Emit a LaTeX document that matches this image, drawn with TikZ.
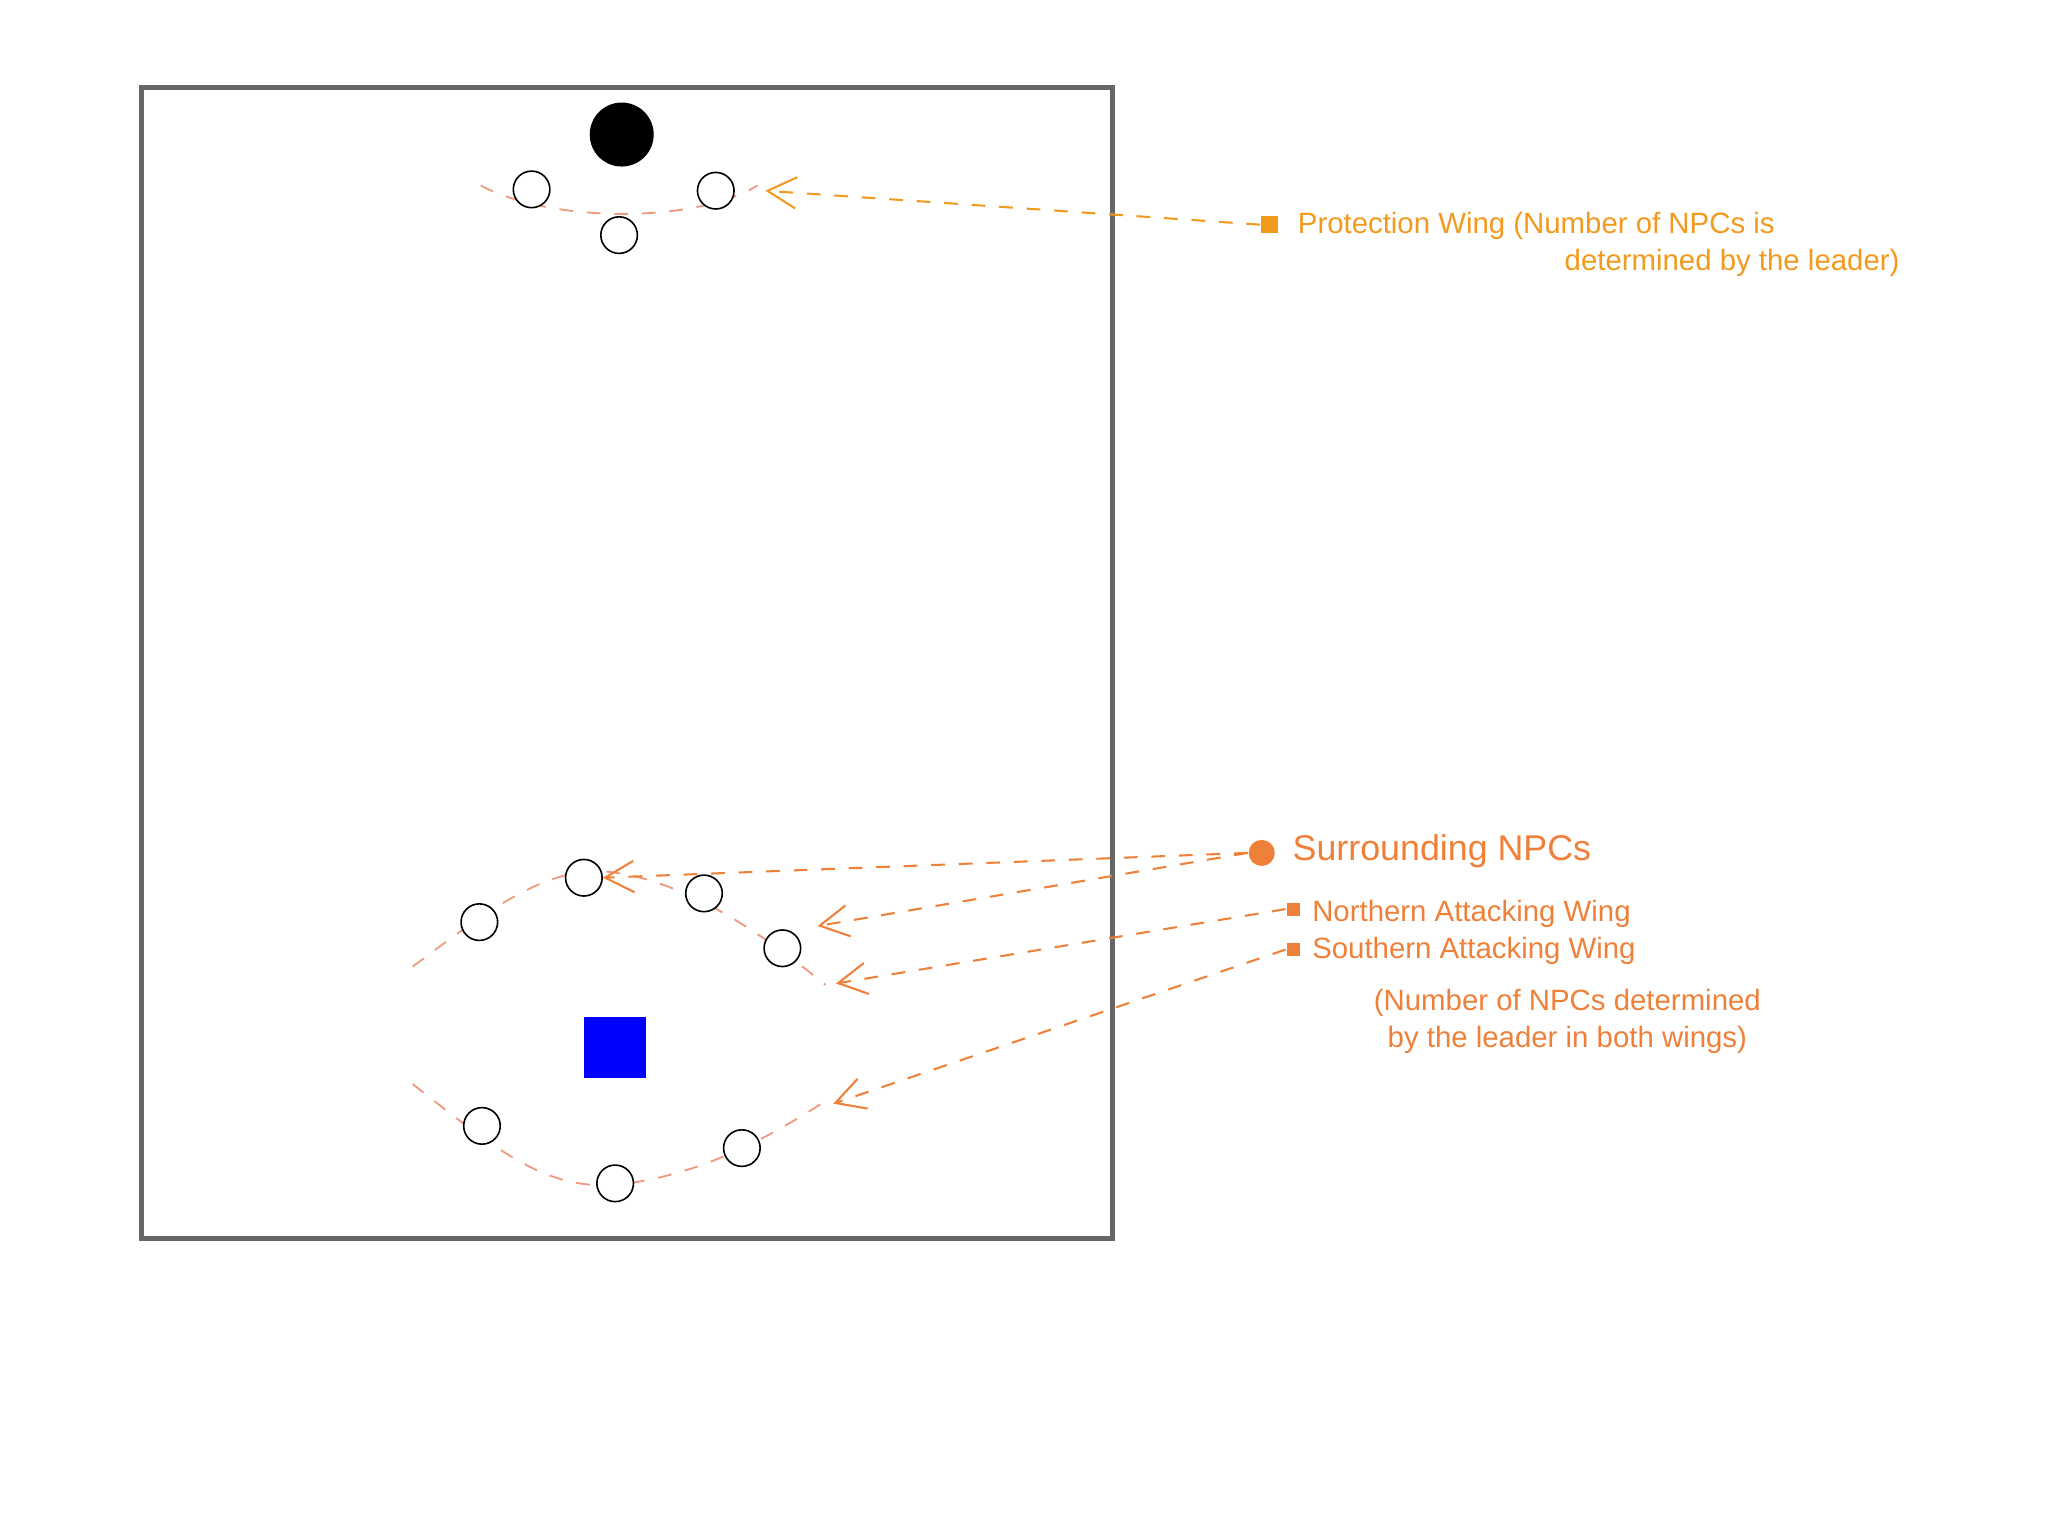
\documentclass[tikz,border=0pt]{standalone}
\usepackage{fontspec}
\setmainfont{Liberation Sans}
\usetikzlibrary{arrows.meta}
\definecolor{po}{HTML}{F29A1E}
\definecolor{so}{HTML}{EF8039}
\definecolor{cv}{HTML}{EE9A80}
\begin{document}
\begin{tikzpicture}[x=0.1mm,y=-0.1mm,
  npc/.style={circle,draw=black,line width=0.35pt,minimum size=2.8mm,inner sep=0pt},
  wing/.style={draw=cv,dashed,line width=0.4pt},
  ptr/.style={dashed,line width=0.45pt,-{Straight Barb[length=2.2mm,width=2.4mm]}},
  lbl/.style={anchor=west,inner sep=0pt,font=\fontsize{6.4pt}{7.6pt}\selectfont}]
\useasboundingbox (0,0) rectangle (1568,1176);
\draw[gray!80!black,line width=1.1pt] (108,67) rectangle (852,948);
% top
\node[circle,fill=black,minimum size=4.9mm,inner sep=0pt] (leader) at (476,103) {};
\draw[wing] (368,142) .. controls (420,170) and (530,172) .. (580,142);
\node[npc,fill=white] (p1) at (407,145) {};
\node[npc,fill=white] (p2) at (548,146) {};
\node[npc,fill=white] (p3) at (474,180) {};
% north wing
\draw[wing] (316,740) .. controls (370,700) and (420,660) .. (470,668) .. controls (530,676) and (590,720) .. (632,754);
\node[npc,fill=white] (n1) at (367,706) {};
\node[npc,fill=white] (n2) at (447,672) {};
\node[npc,fill=white] (n3) at (539,684) {};
\node[npc,fill=white] (n4) at (599,726) {};
\coordinate (nend) at (640,753);
% south wing
\draw[wing] (316,830) .. controls (380,880) and (420,915) .. (480,906) .. controls (540,898) and (590,870) .. (632,843);
\node[npc,fill=white] (s1) at (369,862) {};
\node[npc,fill=white] (s2) at (471,906) {};
\node[npc,fill=white] (s3) at (568,879) {};
\coordinate (send) at (638,845);
\coordinate (pend) at (586,146);
\coordinate (nmid) at (626,709);
\node[fill=blue,minimum size=4.7mm,inner sep=0pt] (player) at (471,802) {};
% legend
\node[fill=po,minimum size=1.3mm,inner sep=0pt] (pm) at (972,172) {};
\node[lbl,text=po] (pt1) at (993,173) {Protection Wing (Number of NPCs is};
\node[lbl,text=po,anchor=east] (pt2) at (1455,201) {determined by the leader)};
\draw[ptr,po] (pm.west) -- (pend);
\node[circle,fill=so,minimum size=2mm,inner sep=0pt] (sm) at (966,653) {};
\node[lbl,text=so,font=\fontsize{7.8pt}{9pt}\selectfont] (st) at (989,652) {Surrounding NPCs};
\draw[ptr,so] (sm.west) -- (n2.east);
\draw[ptr,so] (sm.west) -- (nmid);
\node[fill=so,minimum size=1mm,inner sep=0pt] (nm) at (990,696) {};
\node[lbl,text=so] (nt) at (1004,700) {Northern Attacking Wing};
\draw[ptr,so] (nm.west) -- (nend);
\node[fill=so,minimum size=1mm,inner sep=0pt] (sqm) at (990,727) {};
\node[lbl,text=so] (sqt) at (1004,728) {Southern Attacking Wing};
\draw[ptr,so] (sqm.west) -- (send);
\node[text=so,align=center,inner sep=0pt,font=\fontsize{6.4pt}{8pt}\selectfont] (note) at (1200,782) {(Number of NPCs determined\\by the leader in both wings)};
\end{tikzpicture}
\end{document}
